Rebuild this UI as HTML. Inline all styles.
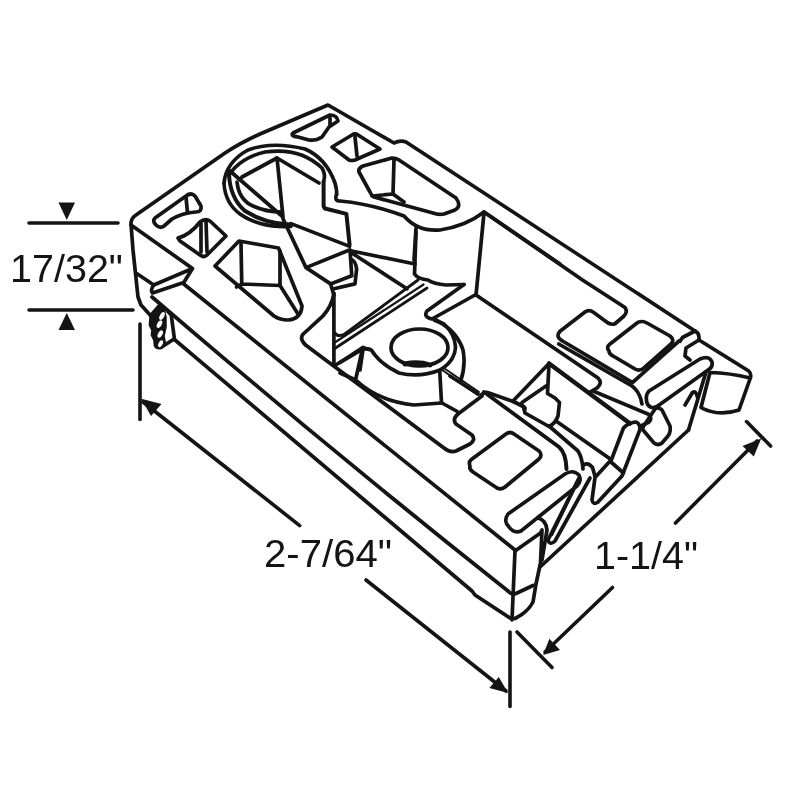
<!DOCTYPE html>
<html><head><meta charset="utf-8"><style>
html,body{margin:0;padding:0;background:#fff;}
svg{display:block;}
body{-webkit-font-smoothing:antialiased;}
text{font-family:"Liberation Sans",sans-serif;fill:#141414;}
</style></head><body>
<svg width="800" height="800" viewBox="0 0 800 800">
<g fill="none" stroke="#141414" stroke-width="3.6" stroke-linecap="round" stroke-linejoin="round">
<!-- dimension 17/32 -->
<line x1="29" y1="223" x2="118" y2="223"/>
<line x1="29" y1="310" x2="133" y2="310"/>
<line x1="140" y1="324" x2="140" y2="419.5"/>
<line x1="510" y1="632" x2="510" y2="706.5"/>
<line x1="517" y1="632" x2="552" y2="667.5"/>
<line x1="746.5" y1="421.6" x2="770.6" y2="446"/>
<line x1="143" y1="402" x2="299.7" y2="525.6"/>
<line x1="366" y1="580" x2="506" y2="691"/>
<line x1="545" y1="652" x2="612.5" y2="587.5"/>
<line x1="675.5" y1="523" x2="757" y2="441"/>
</g>
<g fill="#141414" stroke="none">
<polygon points="58.5,202.5 75,202.5 66.75,220"/>
<polygon points="58.5,330 75,330 66.75,313"/>
<polygon points="141.25,398.75 161.5,404 151,416"/>
<polygon points="508.1,693.1 489.4,688.1 498.75,676.9"/>
<polygon points="543.1,655 549.4,638.75 560,650"/>
<polygon points="761.25,438.5 742.5,446 753.75,456.5"/>
</g>
<g style="will-change:transform"><text x="10" y="282" font-size="39.5">17/32"</text>
<text x="264" y="567" font-size="38.5" textLength="128" lengthAdjust="spacingAndGlyphs">2-7/64"</text>
<text x="594" y="569" font-size="38.5" textLength="104" lengthAdjust="spacingAndGlyphs">1-1/4"</text></g>
<g id="obj" fill="none" stroke="#141414" stroke-width="3.7" stroke-linejoin="round" stroke-linecap="round">
<!-- outer silhouette top -->
<path d="M151,316 L141,305 L138,297 L133,250 L131,224 Q131,218 136,215 L225,153 Q240,143 260,134 L328,105 L394,143 Q400,140 406,142 L695,331 Q699,333 699,337 L699,340"/>
<!-- left end -->
<path d="M131,225 L192.5,268.5 L153.75,285 Q150,290 152.5,293 L183.75,282.5 L192.5,268.5"/>
<path d="M137.5,274 L153.75,285"/>
<!-- front face lines -->
<path d="M183.75,284 L515,550"/>
<path d="M152,297 Q330,450 508,591"/>
<path d="M175,340 L472,591 L475,595 L510,618"/>
<!-- spring -->
<path d="M159.4,305.6 L151.25,315 L150.5,325 L153,330 L152.5,335 L155,340 L155.5,345.5 Q157,348.5 161,347.5 L174.4,338.75 L171.25,315 L167.5,311"/>
<path d="M159.4,306 L151.5,315 L151,325 L153,330 L152.5,335 L155,340 L155.5,345.5 Q157,348.5 161,347.5 L165.5,344 L164,336 L166,327 L166,317 L164,309 Z" fill="#141414" stroke-width="1.5"/>
<ellipse cx="160.5" cy="314.5" rx="4.2" ry="2.2" transform="rotate(-62 162.5 314)" fill="#fff" stroke="none"/>
<ellipse cx="158.5" cy="323.5" rx="4.2" ry="2.2" transform="rotate(-62 159.5 323)" fill="#fff" stroke="none"/>
<ellipse cx="159" cy="333" rx="4" ry="2.2" transform="rotate(-62 160.5 332.5)" fill="#fff" stroke="none"/>
<ellipse cx="159.5" cy="342" rx="3.6" ry="2" transform="rotate(-62 161.5 342)" fill="#fff" stroke="none"/>
<!-- right end face -->
<path d="M515,551 L540.5,533 L542,530 L540.5,563 L536,584 L533,602 Q528,612 515,618.5"/>
<path d="M515,551 L512,620"/>
<path d="M508,591 Q511,595 516,593.5 L533,585.5"/>

<path d="M540,567 L688.5,430"/>
<!-- slot A, B near left -->
<path d="M155,218 L186,196 Q191,192 195,196 L201,206 Q202,212 196,212 Q182,213 172,219 L164,226 Q160,229 156,225 Q152,221 155,218 Z"/>
<path d="M186,197 L187.5,213"/>
<path d="M178,238 Q190,235 200,222 Q205,218 210,221 L226,236 L207,255 Q204,258 200,255 L180,241 Z"/>
<path d="M201,222 L201,252 M206,221 L207,252"/>
<!-- pentagon pocket -->
<path d="M215,266 L239,241 L278.5,248 L302,306 Q301,319 288,320 Q280,320 274,316 Z"/>
<path d="M241,243.5 L241.75,284 L280,285.5 L280,251 M241.75,284 L236.5,287 M280,285.5 L298,314"/>
<!-- slot at apex -->
<path d="M293,133 L330,115 Q337,115 338,121 L329,127 L322,137 Q316,141 309,140 L298,137 Q290,136 293,133 Z"/>
<path d="M330,118 L330,125"/>
<!-- diamond slot B2 -->
<path d="M332,147 L352,135 Q355,133 358,135 L380,149 L355,160 Q352,161 349,160 Z"/>
<path d="M355,137 L357,156"/>
<!-- pocket C -->
<path d="M359,172 Q358,168 363,166 L392,158 Q396,158 399,160 L456,198 Q462,206 455,210 L444,214 Q438,215 433,213 L374,197 Q371,195 370,192 Z"/>
<path d="M394,160 L393,194 L372,196 M393,194 L404,202"/>
<!-- keyhole -->
<path d="M224,183 Q226,162 248,150 Q272,141 305,149 Q326,158 335,183 Q337,190 336.6,194.4"/>
<path d="M224,183 Q225,203 240,214 Q260,228 291,226.5" stroke-width="3.6"/>
<path d="M229,174 Q230,198 245,211 Q266,224 290,224.5" stroke-width="4"/>
<path d="M229,175 Q240,158 265,152 Q300,147 322,168 Q326,175 323.6,181.4"/>
<path d="M237,182 Q239,200 253,206 Q266,212 282,212"/>
<path d="M230,171 L283,217 M242,177 L277,158 L283,217 M277,158 L319,183"/>
<path d="M323.6,181.4 L323.6,205.75 Q324,209 327,209 L346.4,213.9 L349.6,244.75" stroke-width="4"/>
<path d="M283,218.75 L306,267.6 L330.6,283.9 L351.75,275.75 L350,249.75 L306,267.6"/>
<path d="M291,223.6 L349.6,246.4"/>
<path d="M333.9,288.75 L355,283.9 L356.6,269.25 Q356,262 351.75,259.5"/>
<path d="M330.6,283.9 L333.9,295.25"/>
<path d="M351.75,251 L415,264 M351.75,253 L407,288.75"/>
<!-- S-curve to right -->
<path d="M336.6,194.4 Q334,200.9 340,201 Q372,204 404,216 Q418,232 440,230 Q466,226 484,212 L560,264"/>
<path d="M416,228 L414,260"/>
<path d="M484,213 L476,295"/>
<path d="M416,232 L414.5,274 Q418,279 428,280 Q434,284 446,285 L464,284.5"/>
<!-- middle -->
<path d="M333.9,293.6 Q332,306 322.5,316.4 L303,334.25 Q299,339 306.25,345.6 L444,448 Q450,453 456,451 L470,444 Q476,440 472,435 L456,424 Q452,419 458,414 L482,396"/>
<path d="M333.9,293.6 L333.9,365"/>
<path d="M335,333 Q337,337 343.75,334.6 L418,280" stroke-width="3"/>
<path d="M335.5,342 L423.5,284.5" stroke-width="2.2"/>
<path d="M335.5,348 L427,288" stroke-width="2.8"/>
<path d="M335.5,365 L363,349 L369.6,349"/>
<path d="M363,349 L360,370"/>
<!-- boss & hole -->
<ellipse cx="419.5" cy="347.5" rx="28.5" ry="18.5"/>
<path d="M405,364 Q418,361 430,365" stroke-width="5"/>
<path d="M340,362.5 L362.75,347.6 L371.5,350.25 Q380,364 399,373 Q420,378 440,370 Q455,361 455.5,347 Q455,334 444,324 L434.5,320.25"/>
<path d="M464,284.5 L427,311 Q423,317 432,319 L475,295 M436,320 Q457,331 463,350 Q466,366 460.6,381"/>
<path d="M362.75,347.6 L355.75,379"/>
<path d="M340,373 L355.75,380 Q378,401 414,405 L441.5,403"/>
<path d="M439.75,371.25 L441.5,402.75 L457.25,411.5"/>
<path d="M441.5,369.5 L477,394.5 M443,367.5 L479,392" stroke-width="2"/>
<!-- right area: notch + pocket D -->
<path d="M484,212 L582.5,280 L625,307.5 Q628,312 624,316 L615,323.75 Q612,325 608,323 L593.75,312.5 Q589,309 585,312 L560,331.25 Q555,337 562.5,341 L632.5,382.5 L679,341"/>
<path d="M609,351 Q606,347 610,344 L637,323 Q642,320 647,323 L670,336 Q675,340 671,344 L645,367 Q640,372 635,369 L613,356 Q609,354 609,351 Z"/>
<path d="M695,331 L682.5,337.5 L680,341.25"/>
<path d="M558.75,344 L632,386 Q640,392 642,404"/>
<path d="M699,340 L686,348 L685,356 L690,360"/>
<!-- tab -->
<path d="M699,340 L748.75,371 Q752,374 750,379 L739,410 Q727,414 716,412.5 Q707,411 701,407.5 L710,372.5 Q730,373 750,378"/>
<path d="M649,391 L700,359 Q709,355 712,362 Q713,367 708.75,369.5 L657,406.4 Q650,410 647,403 Q645,395 649,391 Z"/>
<path d="M685,405 L692.5,392.5 Q696,390 697.5,397.5"/>
<path d="M706,372 L688.5,430"/>
<!-- line a & bars -->
<path d="M476,295 L598,378 Q603,383 597,388 L590,392"/>
<path d="M549,363.5 L630,423.5" stroke-width="4.5"/>
<path d="M593,391 L648,414 Q653,418 649,422 L641,426"/>
<path d="M643,427 L655,409 Q658,406 662,410 L670,426 Q671,432 668,436 L662,443 Q658,446 654,443 L643,430 Z"/>
<!-- pillar G -->
<path d="M549,363.5 L547.5,393.5 L555,398 L559.5,402.5 L558,416 Q555,424 549,426.5 L525,413 L523.5,407 L513,401 L549,363.5"/>
<path d="M546,386 L522,402.5"/>


<!-- pocket E + raised block -->
<path d="M470,466 Q468,462 472,459 L506,434 Q510,431 514,434 L539,451 Q543,455 539,459 L505,487 Q501,490 497,488 L473,472 Q469,469 470,466 Z"/>
<path d="M481,395 Q485,391 489,393 L511.75,401 L523,406 Q526,408 524.75,409.25"/>
<path d="M450,376 L478,394"/>
<path d="M484,392 L559,447 Q566,453 566.5,469" stroke-width="4"/>
<path d="M549,426 L578,451 Q582,457 583,469"/>
<path d="M556,421 L611,459.5"/>
<!-- clip bar K and fins -->
<path d="M509,527 Q503,521 508,514 L565,474 Q573,469 579,475 Q582,481 577,486 L521,531 Q514,534 509,527 Z" stroke-width="3.6"/>
<path d="M579,478 L548,540 Q550,546 555,541 L590,478"/>
<path d="M552,535 L574,490" stroke-width="2.4"/>
<path d="M538,518 Q546,520 547,530 L542,560"/>
<path d="M583.75,465 Q588,462 592.5,467.5 L595,476.25"/>
<!-- V clip H -->
<path d="M635.5,422 Q628,423 623.5,428 L611.5,459.5 L595,477.5 L592,500 Q593,505 597.5,502.5 L622,476 L640,429.5 Q640,423 635.5,422 Z"/>
<path d="M611.5,462.5 L623.5,473"/>
</g>
</svg>
</body></html>
